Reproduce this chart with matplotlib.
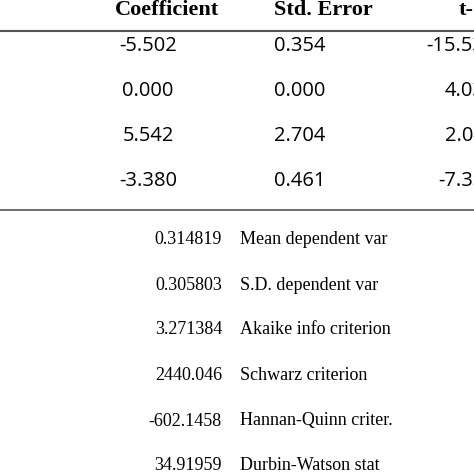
import matplotlib.pyplot as plt

headers = ["Coefficient", "Std. Error", "t-Statistic"]
coef = ["-5.502", "0.000", "5.542", "-3.380"]
stderr = ["0.354", "0.000", "2.704", "0.461"]
tstat = ["-15.534", "4.033", "2.049", "-7.331"]
stat_values = ["0.314819", "0.305803", "3.271384", "2440.046", "-602.1458", "34.91959"]
stat_labels = ["Mean dependent var", "S.D. dependent var", "Akaike info criterion",
               "Schwarz criterion", "Hannan-Quinn criter.", "Durbin-Watson stat"]

W = H = 474
fig = plt.figure(figsize=(4.74, 4.74), dpi=100)
ax = fig.add_axes([0, 0, 1, 1])
ax.set_xlim(0, W)
ax.set_ylim(H, 0)
ax.axis("off")

serif = "Liberation Serif"
sans = "Open Sans"

# header row (table is cut at the right edge, as in the source)
hx = [167, 323, 505]
for x, h in zip(hx, headers):
    ax.text(x, 10, h, ha="center", va="center", family=serif, weight="bold", fontsize=16)

ax.plot([0, W], [31, 31], color="#555555", lw=1.5)

row_y = [46, 91, 136, 181]
for i, y in enumerate(row_y):
    ax.text(148, y, coef[i], ha="center", va="center", family=sans, fontsize=14.5)
    ax.text(300, y, stderr[i], ha="center", va="center", family=sans, fontsize=14.5)
    ax.text(496, y, tstat[i], ha="right", va="center", family=sans, fontsize=14.5)

ax.plot([0, W], [210, 210], color="#555555", lw=1.2)

stat_y = [239, 285, 330, 376, 421, 465]
for i, y in enumerate(stat_y):
    ax.text(222, y, stat_values[i], ha="right", va="center", family=serif, fontsize=13)
    ax.text(240, y, stat_labels[i], ha="left", va="center", family=serif, fontsize=13)

fig.savefig("out.png", dpi=100)
